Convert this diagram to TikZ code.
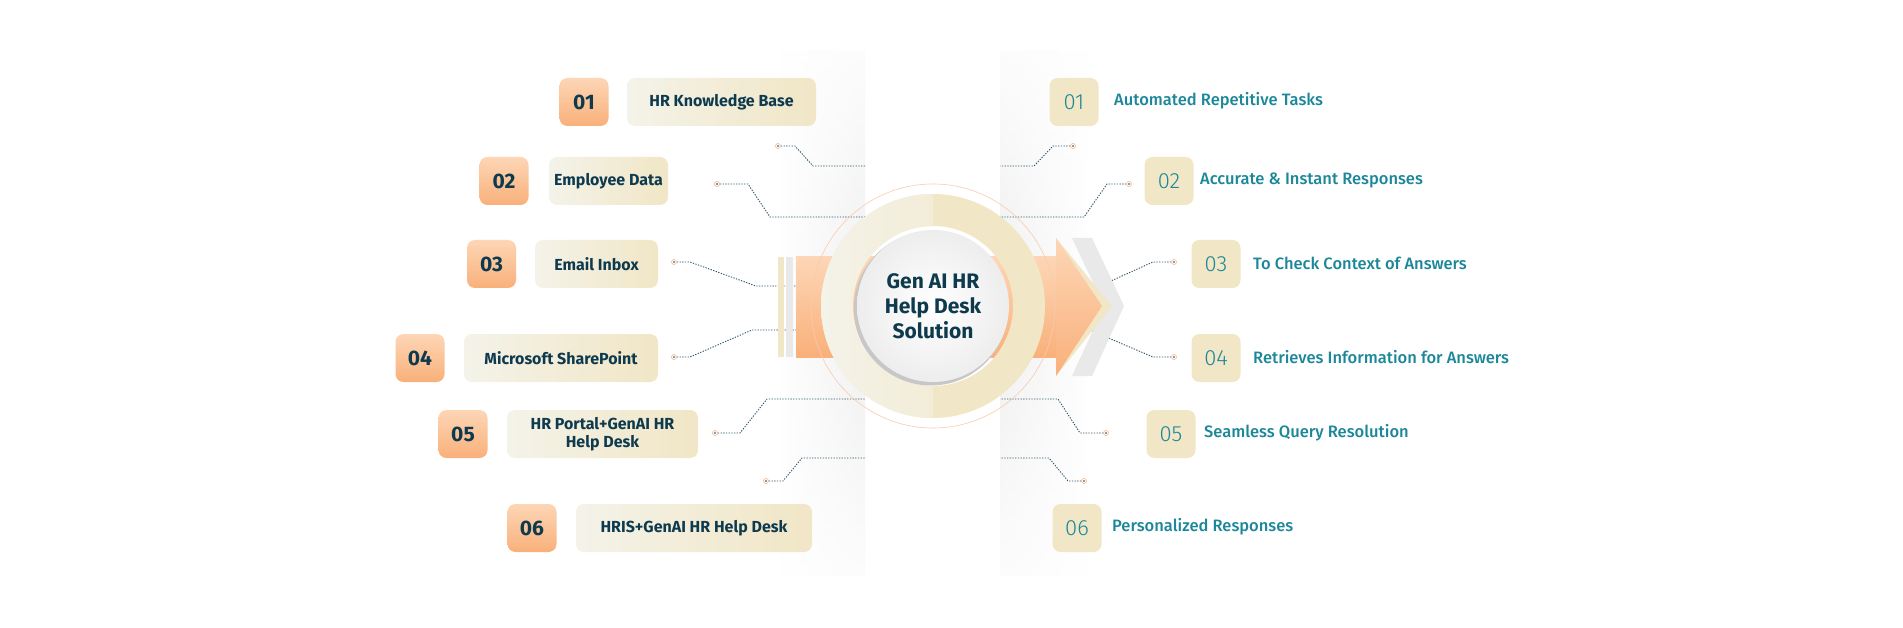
\documentclass[tikz,border=0pt]{standalone}
\usepackage{fontspec}
\setmainfont{Fira Sans}
\newfontfamily\fmed{Fira Sans Medium}
\newfontfamily\flight{Fira Sans Light}
\usetikzlibrary{shapes.geometric,fadings}
\definecolor{navy}{HTML}{0E3A4E}
\definecolor{teal}{HTML}{1B8799}
\definecolor{cream}{HTML}{F1E6C6}
\definecolor{creamL}{HTML}{F4F3E9}
\definecolor{orT}{HTML}{FDD6B6}
\definecolor{orB}{HTML}{F9B07A}
\definecolor{lnc}{HTML}{2B5566}
\definecolor{dotr}{HTML}{F6B58C}
\definecolor{band}{HTML}{E9E9EA}
\definecolor{bandL}{HTML}{EFEFF0}
\tikzset{
 numL/.style={rounded corners=8pt, top color=orT, bottom color=orB, minimum width=49pt, minimum height=48pt, text=navy, font=\bfseries\fontsize{21}{22}\selectfont, inner sep=0pt},
 labL/.style={rounded corners=8pt, left color=creamL, right color=cream, minimum height=48pt, text=navy, font=\bfseries\fontsize{16}{18}\selectfont, align=center, inner sep=0pt},
 numR/.style={rounded corners=8pt, fill=cream, minimum width=49pt, minimum height=48pt, text=teal, font=\flight\fontsize{22}{22}\selectfont, inner sep=0pt},
 labR/.style={anchor=west, text=teal, font=\fmed\fontsize{16.5}{18}\selectfont, inner sep=0pt},
 dot/.style={circle, draw=dotr, fill=white, line width=0.6pt, minimum size=5pt, inner sep=0pt, path picture={\fill[navy] (path picture bounding box.center) circle (0.9pt);}},
 conn/.style={lnc, line width=0.9pt, dash pattern=on 1.3pt off 1.4pt},
}
\tikzfading[name=vfade, top color=transparent!100, bottom color=transparent!100, middle color=transparent!0]
\begin{document}
\begin{tikzpicture}[x=1pt,y=-1pt]
\useasboundingbox (0,0) rectangle (1903,628);
\fill[white] (0,0) rectangle (1903,628);
% vertical bands
\begin{scope}
\shade[left color=white, right color=bandL, path fading=vfade, fading transform={yscale=1.2}] (777,50) rectangle (865,575);
\shade[left color=bandL, right color=white, path fading=vfade, fading transform={yscale=1.2}] (1000,50) rectangle (1090,575);
\end{scope}
% connectors
\foreach \n/\x/\y in {L1/778/146, L2/717/184, L3/674/262, L4/674/357, L5/715/433, L6/766/481,
                      R1/1073/146, R2/1129/184, R3/1174/262, R4/1174/357, R5/1106/433, R6/1084/481}
  \node[dot] (d\n) at (\x,\y) {};
\foreach \n/\ax/\bx/\by/\ex in {L1/795/813/166/865, L2/748/770/217/865, L3/690/756/286/796, L4/690/752/330/796, L5/740/767/399/865, L6/783/802/458/865,
  R1/1053/1034/166/1000, R2/1107/1084/217/1000, R3/1153/1102/285/1100, R4/1153/1092/331/1090, R5/1080/1058/399/1000, R6/1068/1049/458/1000}
{
  \coordinate (a\n) at (\ax,0 |- d\n);
  \coordinate (b\n) at (\bx,\by);
  \coordinate (e\n) at (\ex,\by);
  \draw[conn] (d\n) -- (a\n) -- (b\n) -- (e\n);
}
% left bars and arrow body
\fill[cream] (778,257) rectangle (784,357);
\fill[band] (786,257) rectangle (793,357);
\shade[top color=orT, bottom color=orB] (796,257) rectangle (1058,357);
% chevrons
\fill[band] (1072,238) -- (1092,238) -- (1124,306) -- (1092,376) -- (1072,376) -- (1104,306) -- cycle;
\fill[cream] (1056,238) -- (1112,306) -- (1056,376) -- cycle;
\shade[top color=orT, bottom color=orB] (1056,238) -- (1102,306) -- (1056,376) -- cycle;
% ring
\fill[cream, even odd rule] (933,306) circle (112) (933,306) circle (80);
\begin{scope}
\clip (821,190) rectangle (933,420);
\shade[even odd rule, left color=creamL, right color=cream] (933,306) circle (112) (933,306) circle (80);
\end{scope}
\draw[dotr!70, line width=0.6pt] (933,306) circle (122);
% inner circle
\fill[black!22] (931,308.5) circle (77);
\shade[inner color=white, outer color=black!7] (933,306) circle (76);
\node[text=navy, font=\bfseries\fontsize{21}{25}\selectfont, align=center] (c) at (933,306) {Gen AI HR\\Help Desk\\Solution};
% left items
\node[numL] (nL1) at (584,102) {01};
\node[labL, minimum width=189pt] (tL1) at (721.5,102) {HR Knowledge Base};
\node[numL] (nL2) at (504,181) {02};
\node[labL, minimum width=119pt] (tL2) at (608.5,181) {Employee Data};
\node[numL] (nL3) at (491.5,264) {03};
\node[labL, minimum width=123pt] (tL3) at (596.5,264) {Email Inbox};
\node[numL] (nL4) at (420,358) {04};
\node[labL, minimum width=194pt] (tL4) at (561,358) {Microsoft SharePoint};
\node[numL] (nL5) at (463,434) {05};
\node[labL, minimum width=191pt] (tL5) at (602.5,434) {HR Portal+GenAI HR\\Help Desk};
\node[numL] (nL6) at (532,528) {06};
\node[labL, minimum width=236pt] (tL6) at (694,528) {HRIS+GenAI HR Help Desk};
% right items
\node[numR] (nR1) at (1074,102) {01};
\node[labR] (tR1) at (1114,101) {Automated Repetitive Tasks};
\node[numR] (nR2) at (1169,181) {02};
\node[labR] (tR2) at (1200,180) {Accurate \& Instant Responses};
\node[numR] (nR3) at (1216,264) {03};
\node[labR] (tR3) at (1253,263) {To Check Context of Answers};
\node[numR] (nR4) at (1216,358) {04};
\node[labR] (tR4) at (1253,357) {Retrieves Information for Answers};
\node[numR] (nR5) at (1171,434) {05};
\node[labR] (tR5) at (1204,433) {Seamless Query Resolution};
\node[numR] (nR6) at (1077,528) {06};
\node[labR] (tR6) at (1112,527) {Personalized Responses};
\end{tikzpicture}
\end{document}
